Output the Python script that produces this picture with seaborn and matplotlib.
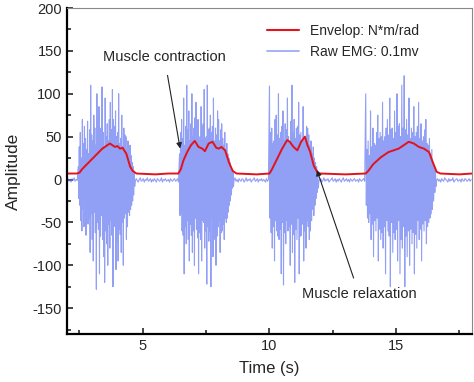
import numpy as np
import pandas as pd
import matplotlib
matplotlib.use("Agg")
import matplotlib.pyplot as plt
import seaborn as sns

# ---- raw EMG (amplitude, 0.1 mV units) ----
# quiet stretches between contractions
quiet0 = [-1, 1, -2, 0, -3, 1, -1, 2, -2, 0, -1]
quiet1 = [-2, 1, -1, -3, 0, 2, -2, -1, 1, -3, 0, -1, 2, -2, -1, 1, -3, 0, -2, 1,
          -1, -3, 1, 0, -2, -1, 2, -3, 0, -1, 1, -2, -1, 0, -3, 1, -1, -2, 0, 1,
          -2, -1, 1, -3]
quiet2 = [-1, 2, -2, 0, -3, 1, -1, -2, 1, 0, -3, -1, 2, -2, 0, -1, 1, -3, -1, 0,
          2, -2, -1, 1, -3, 0, -1, 1, -2, 0, -1, -3, 1, -2, 0]
quiet3 = [-2, 0, 1, -3, -1, 2, -2, 0, -1, 1, -3, -1, 0, 2, -2, -1, 1, -3, 0, -2,
          1, -1, -3, 0, 2, -2, -1, 1, -2, 0, -3, 1, -1, -2, 0, 1, -2, -1, 0, -3,
          1, -1, -2, 0, 1, -2]
quiet4 = [-1, 1, -2, 0, -3, 1, -1, -2, 2, 0, -1, -3, 1, -2, 0, -1, 2, -3, -1, 0,
          1, -2, -1, 0, -3, 1, -1, -2, 1, 0, -2, -1, 1, -2, 0]

# contraction bursts
burst1 = [15, -22, 38, -30, 55, -48, 25, -60, 70, -35, 42, -55, 62, -28, 48, -65, 35, -40, 68, -52,
          30, -45, 58, -85, 110, -40, 52, -70, 45, -95, 75, -38, 60, -62, 40, -128, 100, -50, 72, -58,
          85, -110, 48, -66, 60, -42, 108, -70, 55, -90, 38, -120, 95, -60, 50, -75, 65, -100, 45, -52,
          70, -80, 90, -48, 58, -65, 105, -125, 70, -45, 62, -55, 80, -105, 50, -72, 55, -95, 100, -58,
          42, -64, 48, -85, 75, -50, 38, -100, 60, -45, 52, -40, 50, -70, 35, -55, 45, -38, 30, -42,
          40, -35, 28, -30, 20, -25, 15, -18, 10, -8]
burst2 = [30, -42, 55, -38, 70, -60, 48, -65, 95, -110, 40, -55, 62, -75, 110, -48, 58, -70, 80, -95,
          45, -52, 65, -65, 100, -85, 50, -60, 60, -100, 72, -45, 90, -58, 55, -68, 70, -110, 40, -62,
          50, -70, 85, -95, 62, -48, 65, -50, 105, -80, 48, -60, 50, -122, 110, -55, 58, -72, 60, -60,
          75, -125, 55, -45, 62, -90, 95, -70, 45, -58, 60, -100, 52, -66, 80, -55, 70, -48, 45, -85,
          58, -62, 65, -60, 48, -52, 40, -70, 55, -45, 35, -50, 42, -45, 30, -38, 25, -30, 20, -25,
          15, -18, 12, -10, 8, -8]
burst3 = [109, -45, 55, -62, 60, -80, 42, -55, 45, -95, 70, -48, 75, -60, 52, -66, 100, -70, 48, -58,
          55, -110, 62, -50, 80, -123, 45, -62, 65, -75, 58, -48, 95, -60, 50, -55, 42, -100, 68, -52,
          110, -85, 55, -64, 70, -120, 48, -58, 60, -70, 62, -45, 90, -110, 52, -66, 55, -65, 45, -52,
          85, -95, 50, -60, 48, -80, 62, -48, 60, -55, 52, -70, 40, -60, 45, -48, 30, -35, 38, -42,
          25, -30, 20, -22, 15, -15, 10, -10]
burst4 = [100, -30, 35, -45, 45, -50, 28, -40, 80, -70, 38, -52, 60, -90, 42, -48, 40, -60, 55, -45,
          75, -95, 48, -58, 55, -70, 50, -62, 90, -80, 45, -55, 50, -110, 60, -48, 70, -60, 52, -66,
          95, -125, 58, -50, 60, -85, 48, -62, 80, -70, 55, -58, 100, -95, 62, -48, 65, -110, 50, -70,
          110, -80, 60, -55, 121, -125, 58, -66, 70, -90, 52, -60, 95, -100, 48, -58, 60, -75, 55, -62,
          85, -110, 50, -64, 55, -80, 62, -48, 90, -70, 48, -58, 65, -95, 45, -52, 50, -60, 58, -48,
          70, -75, 42, -55, 40, -50, 48, -45, 30, -40, 35, -35, 20, -25, 15, -15, 10, -8]

# start / end time (s) of each stretch, in order
segment_times = [(2.0, 2.45), (2.45, 4.7), (4.7, 6.45), (6.45, 8.6), (8.6, 10.0),
                 (10.0, 11.95), (11.95, 13.8), (13.8, 16.6), (16.6, 18.0)]
segments = [quiet0, burst1, quiet1, burst2, quiet2, burst3, quiet3, burst4, quiet4]

# ---- envelope (N*m/rad) ----
env_time = [2.0, 2.4, 2.5, 2.6, 2.8, 3.0, 3.2, 3.4, 3.6, 3.7, 3.8, 3.9, 4.0, 4.1,
            4.2, 4.35, 4.5, 4.6, 4.75, 5.5, 6.0, 6.4, 6.5, 6.6, 6.75, 6.9, 7.05,
            7.2, 7.35, 7.45, 7.6, 7.75, 7.9, 8.0, 8.1, 8.25, 8.4, 8.55, 8.7, 9.5,
            10.0, 10.1, 10.3, 10.5, 10.7, 10.8, 10.95, 11.1, 11.25, 11.4, 11.5,
            11.6, 11.75, 11.9, 12.0, 13.0, 13.8, 13.9, 14.1, 14.4, 14.7, 14.9,
            15.1, 15.3, 15.5, 15.7, 15.9, 16.1, 16.3, 16.45, 16.6, 16.75, 17.5, 18.0]
env_value = [7, 7, 8, 12, 18, 24, 30, 36, 40, 42, 40, 38, 39, 36,
             37, 30, 15, 10, 7, 6, 7, 7, 12, 22, 32, 40, 45,
             38, 36, 33, 42, 44, 37, 36, 38, 34, 20, 10, 7, 6,
             7, 12, 24, 36, 46, 44, 38, 34, 44, 50, 40,
             33, 16, 8, 7, 6, 7, 10, 18, 26, 32, 34,
             36, 40, 44, 42, 38, 36, 32, 20, 9, 7, 6, 7]

emg_t, emg_v = [], []
for (t0, t1), vals in zip(segment_times, segments):
    emg_t.extend(np.linspace(t0, t1, len(vals), endpoint=False))
    emg_v.extend(vals)
emg = pd.DataFrame({"Time": emg_t, "Amp": emg_v})
env = pd.DataFrame({"Time": env_time, "Amp": env_value})

sns.set_style("white")
plt.rcParams["font.family"] = ["Liberation Sans", "DejaVu Sans"]
plt.rcParams["axes.unicode_minus"] = False

fig = plt.figure(figsize=(4.74, 3.82), dpi=100)
ax = fig.add_axes([0.141, 0.126, 0.855, 0.853])

sns.lineplot(data=emg, x="Time", y="Amp", ax=ax, color="#6376f0", lw=0.8,
             alpha=0.7, sort=False, estimator=None, label="Raw EMG: 0.1mv")
sns.lineplot(data=env, x="Time", y="Amp", ax=ax, color="#e3121b", lw=1.4,
             sort=False, estimator=None, label="Envelop: N*m/rad")

ax.set_xlim(2, 18)
ax.set_ylim(-180, 200)
ax.set_xticks([5, 10, 15])
ax.set_xticks(np.arange(2.5, 18, 2.5), minor=True)
ax.set_yticks(np.arange(-150, 201, 50))
ax.set_yticks(np.arange(-175, 201, 25), minor=True)
ax.tick_params(which="both", direction="in", length=4, width=1.2, labelsize=10.5,
               bottom=True, left=True)
ax.tick_params(which="minor", length=3)
ax.set_xlabel("Time (s)", fontsize=12, labelpad=6)
ax.set_ylabel("Amplitude", fontsize=12.5, labelpad=8)

for side in ["left", "bottom"]:
    ax.spines[side].set_color("black")
    ax.spines[side].set_linewidth(1.6)
for side in ["top", "right"]:
    ax.spines[side].set_color("#888888")
    ax.spines[side].set_linewidth(0.8)

h, l = ax.get_legend_handles_labels()
leg = ax.legend(h[::-1], l[::-1], loc="upper left", bbox_to_anchor=(0.481, 0.968),
                frameon=False, fontsize=10, handlelength=2.3, labelspacing=0.5,
                borderaxespad=0)
leg.get_lines()[0].set_linewidth(1.5)
leg.get_lines()[1].set_color("#97a3f5")
leg.get_lines()[1].set_alpha(1)
leg.get_lines()[1].set_linewidth(1.2)

ax.annotate("Muscle contraction", xy=(6.49, 33), xytext=(5.85, 143),
            ha="center", va="center", fontsize=10.5,
            arrowprops=dict(arrowstyle="-|>", color="#222222", lw=0.8,
                            shrinkA=6, mutation_scale=8))
ax.annotate("Muscle relaxation", xy=(11.84, 14), xytext=(13.53, -133),
            ha="center", va="center", fontsize=10.5,
            arrowprops=dict(arrowstyle="-|>", color="#222222", lw=0.8,
                            shrinkA=4, mutation_scale=8))

fig.savefig("out.png", dpi=100)
